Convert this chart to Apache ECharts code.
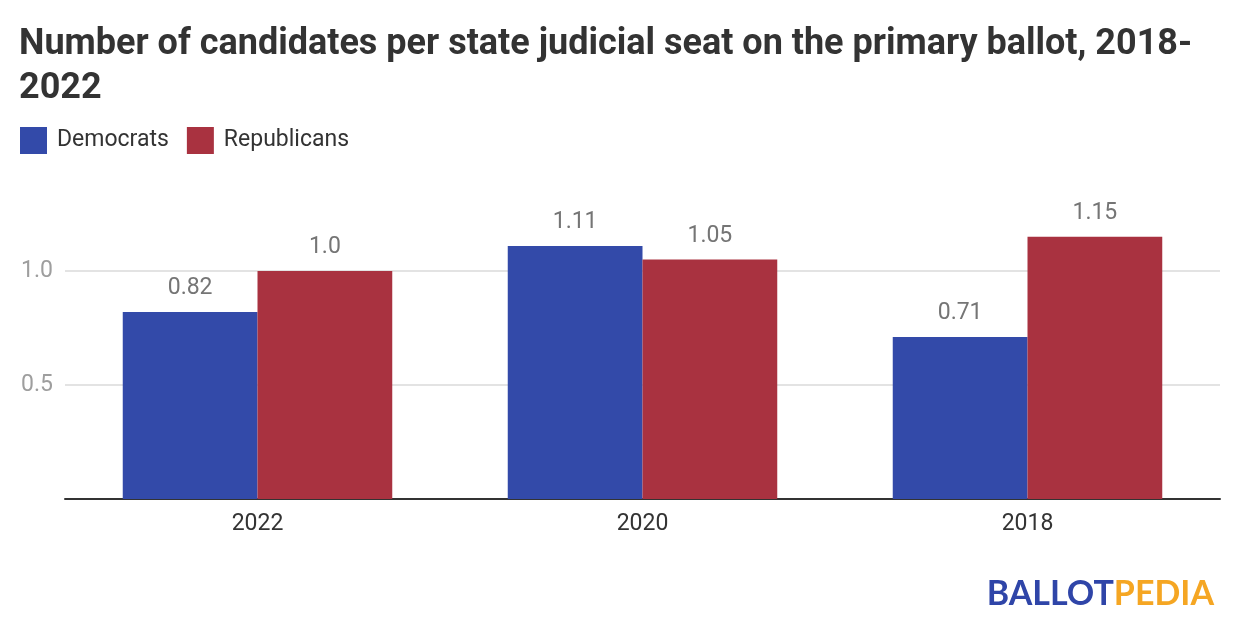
<!DOCTYPE html>
<html>
<head>
<meta charset="utf-8">
<script src="https://cdn.jsdelivr.net/npm/echarts@6/dist/echarts.min.js"></script>
<style>
  html, body { margin: 0; padding: 0; background: #fff; }
  #chart { width: 1240px; height: 640px; }
</style>
</head>
<body>
<div id="chart"></div>
<script>
// data
var years = ['2022', '2020', '2018'];
var democrats = [0.82, 1.11, 0.71];
var republicans = [1.0, 1.05, 1.15];
var yTicks = [0, 0.5, 1.0, 1.5];

var blue = '#334AA9';
var red = '#A93240';

var chart = echarts.init(document.getElementById('chart'));

function valueLabel(p) {
    return p.value === 1 ? '1.0' : String(p.value);
}

var option = {
    animation: false,
    textStyle: { fontFamily: 'Roboto' },
    title: {
        text: 'Number of candidates per state judicial seat on the primary ballot, 2018-\n2022',
        left: 19,
        top: 23,
        padding: 0,
        textStyle: {
            fontFamily: 'Roboto',
            fontSize: 36,
            fontWeight: 'bold',
            color: '#333',
            lineHeight: 44
        }
    },
    legend: {
        left: 20,
        top: 127,
        padding: 0,
        itemWidth: 27,
        itemHeight: 27,
        itemGap: 18,
        icon: 'rect',
        textStyle: { fontSize: 23, color: '#333', padding: [0, 0, 0, 5] },
        data: ['Democrats', 'Republicans']
    },
    grid: { left: 65, right: 20, top: 157, bottom: 141 },
    xAxis: {
        type: 'category',
        data: years,
        axisLine: { lineStyle: { color: '#333', width: 2 } },
        axisTick: { show: false },
        axisLabel: { fontSize: 23, color: '#333', margin: 14 }
    },
    yAxis: {
        type: 'value',
        min: yTicks[0],
        max: yTicks[yTicks.length - 1],
        interval: 0.5,
        axisLine: { show: false },
        axisTick: { show: false },
        axisLabel: {
            fontSize: 23,
            color: '#9E9E9E',
            margin: 12,
            formatter: function (v) {
                if (v === 0 || v === 1.5) return '';
                return v.toFixed(1);
            }
        },
        splitLine: {
            lineStyle: {
                color: ['rgba(0,0,0,0)', '#E3E3E3', '#E3E3E3', 'rgba(0,0,0,0)'],
                width: 2
            }
        }
    },
    series: [
        {
            name: 'Democrats',
            type: 'bar',
            data: democrats,
            barGap: '0%',
            barCategoryGap: '30%',
            itemStyle: { color: blue },
            label: {
                show: true, position: 'top', distance: 12,
                fontSize: 23, color: '#757575', formatter: valueLabel
            }
        },
        {
            name: 'Republicans',
            type: 'bar',
            data: republicans,
            barGap: '0%',
            barCategoryGap: '30%',
            itemStyle: { color: red },
            label: {
                show: true, position: 'top', distance: 12,
                fontSize: 23, color: '#757575', formatter: valueLabel
            }
        }
    ],
    graphic: [{
        type: 'text',
        right: 26,
        top: 577,
        style: {
            text: '{b|BALLOT}{o|PEDIA}',
            rich: {
                b: { fontFamily: 'Lato', fontSize: 34, fontWeight: 'bold', fill: '#2F45A8' },
                o: { fontFamily: 'Lato', fontSize: 34, fontWeight: 'bold', fill: '#F5A623' }
            }
        }
    }]
};

chart.setOption(option);
</script>
</body>
</html>
